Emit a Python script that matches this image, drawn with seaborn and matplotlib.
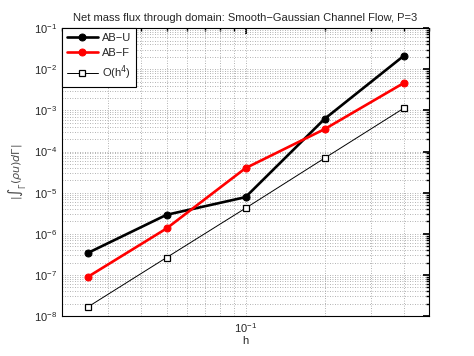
import numpy as np
import pandas as pd
import matplotlib
matplotlib.use("Agg")
import matplotlib.pyplot as plt
import seaborn as sns

# values
h = [0.025, 0.05, 0.1, 0.2, 0.4]
ab_u = [3.4e-7, 2.9e-6, 7.8e-6, 6.2e-4, 2.1e-2]
ab_f = [8.9e-8, 1.35e-6, 3.95e-5, 3.5e-4, 4.6e-3]
ref_h4 = [1.65e-8, 2.65e-7, 4.2e-6, 6.9e-5, 1.12e-3]
y_decades = [1e-8, 1e-7, 1e-6, 1e-5, 1e-4, 1e-3, 1e-2, 1e-1]

sns.set_theme(style="white")
plt.rcParams['font.family'] = ['Liberation Sans', 'DejaVu Sans']
plt.rcParams['mathtext.fontset'] = 'dejavusans'

fig = plt.figure(figsize=(4.74, 3.56), dpi=100)
ax = fig.add_axes([0.131, 0.112, 0.774, 0.809])

sns.lineplot(x=h, y=ab_u, ax=ax, color="black", lw=1.9, marker="o", ms=5,
             mec="black", label="AB\u2212U")
sns.lineplot(x=h, y=ab_f, ax=ax, color="red", lw=1.9, marker="o", ms=5,
             mec="red", label="AB\u2212F")
sns.lineplot(x=h, y=ref_h4, ax=ax, color="black", lw=0.7, marker="s", ms=4.5,
             mfc="white", mec="black", mew=0.9, label=r"O(h$^4$)")

ax.set_xscale("log")
ax.set_yscale("log")
ax.set_xlim(0.02, 0.5)
ax.set_ylim(1e-8, 1e-1)
ax.yaxis.set_major_locator(matplotlib.ticker.FixedLocator(y_decades))
ax.xaxis.set_major_locator(matplotlib.ticker.FixedLocator([0.1]))

ax.grid(True, which="both", ls=(0, (1, 2)), lw=0.6, color="0.6")
ax.tick_params(which="both", direction="in", top=True, right=True,
               labelsize=8, color="black")
ax.tick_params(which="major", length=4)
ax.tick_params(which="minor", length=2)
ax.xaxis.set_minor_formatter(matplotlib.ticker.NullFormatter())
ax.yaxis.set_minor_formatter(matplotlib.ticker.NullFormatter())
for s in ax.spines.values():
    s.set_color("black")
    s.set_linewidth(0.8)

ax.set_title("Net mass flux through domain: Smooth\u2212Gaussian Channel Flow, P=3",
             fontsize=8, pad=5)
ax.set_xlabel("h", fontsize=8, labelpad=1)
ax.set_ylabel(r"$|\int_\Gamma(\rho u)d\Gamma|$", fontsize=8, color="0.3")

leg = ax.legend(loc="upper left", borderaxespad=0, fancybox=False,
                fontsize=8, handlelength=2.8, handletextpad=0.4,
                framealpha=1)
leg.get_frame().set_edgecolor("black")
leg.get_frame().set_linewidth(0.8)

fig.savefig("out.png", dpi=100)
